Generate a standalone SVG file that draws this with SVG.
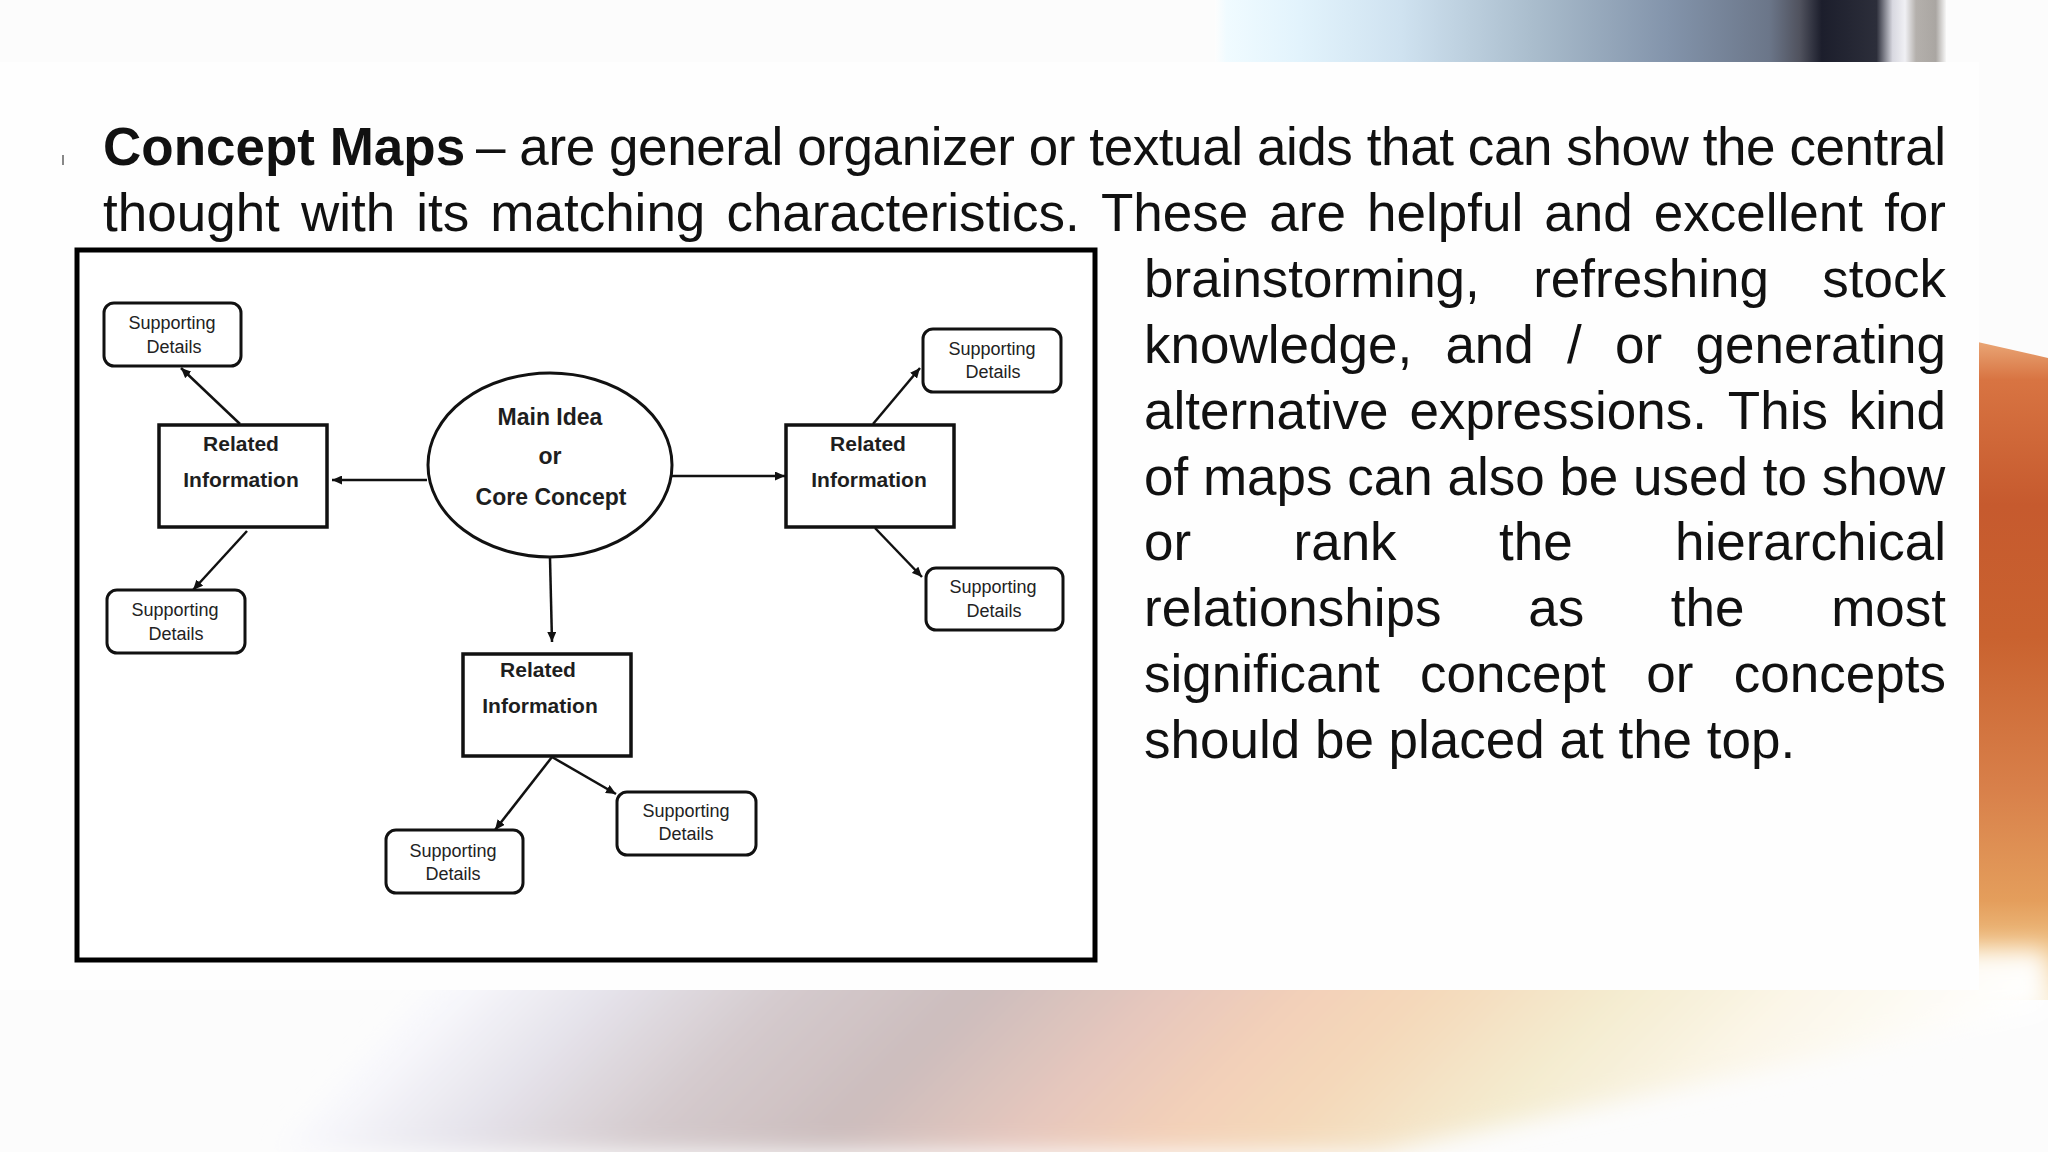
<svg xmlns="http://www.w3.org/2000/svg" width="2048" height="1152" viewBox="0 0 2048 1152">
<defs>
<style>
.body{font-family:"Liberation Sans",Arial,sans-serif;font-size:53px;fill:#111}
.ri{font-family:"Liberation Sans",Arial,sans-serif;font-size:21px;font-weight:bold;fill:#1e1e1e;text-anchor:middle}
.mi{font-family:"Liberation Sans",Arial,sans-serif;font-size:23px;font-weight:bold;fill:#1e1e1e;text-anchor:middle}
.sd{font-family:"Liberation Sans",Arial,sans-serif;font-size:18px;fill:#222;text-anchor:middle}
.sdbox{fill:#fff;stroke:#111;stroke-width:3}
.ribox{fill:#fff;stroke:#111;stroke-width:3.5}
.conn{fill:none;stroke:#111;stroke-width:2.5;marker-end:url(#arr)}
.end{text-anchor:end}
</style>
<marker id="arr" markerUnits="userSpaceOnUse" markerWidth="11" markerHeight="9" refX="10" refY="4.5" orient="auto">
<path d="M0,0 L10,4.5 L0,9 z" fill="#111"/>
</marker>
<linearGradient id="topband" gradientUnits="userSpaceOnUse" x1="1215" y1="0" x2="1946" y2="0">
<stop offset="0" stop-color="#fdfdfd"/>
<stop offset="0.016" stop-color="#f0fbff"/>
<stop offset="0.116" stop-color="#e2f3fc"/>
<stop offset="0.254" stop-color="#cfe2f0"/>
<stop offset="0.438" stop-color="#a9bccc"/>
<stop offset="0.62" stop-color="#8394ab"/>
<stop offset="0.758" stop-color="#6b7689"/>
<stop offset="0.8" stop-color="#50525e"/>
<stop offset="0.83" stop-color="#1c1e2c"/>
<stop offset="0.905" stop-color="#2c2e3a"/>
<stop offset="0.927" stop-color="#d8d8e0"/>
<stop offset="0.944" stop-color="#f0f0f4"/>
<stop offset="0.959" stop-color="#b4b0ac"/>
<stop offset="0.986" stop-color="#aaa6a2"/>
<stop offset="1" stop-color="#f6f6f6"/>
</linearGradient>
<linearGradient id="orange" gradientUnits="userSpaceOnUse" x1="0" y1="340" x2="0" y2="1000">
<stop offset="0" stop-color="#eaa878"/>
<stop offset="0.06" stop-color="#d87442"/>
<stop offset="0.25" stop-color="#c65a2e"/>
<stop offset="0.45" stop-color="#c9622f"/>
<stop offset="0.68" stop-color="#d8804a"/>
<stop offset="0.85" stop-color="#e49e5c"/>
<stop offset="0.93" stop-color="#f0c488"/>
<stop offset="1" stop-color="#f8e8c8"/>
</linearGradient>
<linearGradient id="bottom" gradientUnits="userSpaceOnUse" x1="457" y1="990" x2="1247" y2="1780">
<stop offset="0" stop-color="#f8f8fc"/>
<stop offset="0.09" stop-color="#e6e4ec"/>
<stop offset="0.21" stop-color="#d4cacd"/>
<stop offset="0.33" stop-color="#ccbdbd"/>
<stop offset="0.45" stop-color="#e6c7bd"/>
<stop offset="0.54" stop-color="#f3d0b8"/>
<stop offset="0.62" stop-color="#f4d9ba"/>
<stop offset="0.74" stop-color="#f4ecd0"/>
<stop offset="0.85" stop-color="#fbf6e8"/>
<stop offset="1" stop-color="#ffffff"/>
</linearGradient>
<filter id="soft" x="-0.1" y="-0.5" width="1.2" height="2">
<feGaussianBlur stdDeviation="12"/>
</filter>
</defs>

<g id="background">
<rect x="0" y="0" width="2048" height="1152" fill="#fcfcfc"/>
<rect x="1215" y="0" width="731" height="62" fill="url(#topband)"/>
<polygon points="1960,338 2048,358 2048,1000 1960,1000" fill="url(#orange)"/>
<polygon points="470,950 2048,950 2048,1010 1380,1152 280,1152" fill="url(#bottom)" filter="url(#soft)"/>
<rect x="0" y="62" width="1979" height="928" fill="#fefefe"/>
<rect x="62" y="155" width="2" height="10" fill="#888"/>
</g>

<g id="paragraph" class="body">
<text x="103" y="165" font-weight="bold">Concept Maps</text>
<text x="476" y="165" textLength="1470" lengthAdjust="spacing">– are general organizer or textual aids that can show the central</text>
<text y="231"><tspan x="103">thought</tspan><tspan x="300.9">with</tspan><tspan x="416.2">its</tspan><tspan x="490.3">matching</tspan><tspan x="726.4">characteristics.</tspan><tspan x="1100.9">These</tspan><tspan x="1269.3">are</tspan><tspan x="1367">helpful</tspan><tspan x="1544.2">and</tspan><tspan x="1653.7">excellent</tspan></text>
<text x="1946" y="231" class="end">for</text>
<text y="297"><tspan x="1144">brainstorming,</tspan><tspan x="1533.2">refreshing</tspan></text>
<text x="1946" y="297" class="end">stock</text>
<text y="363"><tspan x="1144">knowledge,</tspan><tspan x="1445.4">and</tspan><tspan x="1567.1">/</tspan><tspan x="1615.1">or</tspan></text>
<text x="1946" y="363" class="end">generating</text>
<text y="429"><tspan x="1144">alternative</tspan><tspan x="1409.4">expressions.</tspan><tspan x="1727.8">This</tspan></text>
<text x="1946" y="429" class="end">kind</text>
<text x="1144" y="495">of maps can also be used to show</text>
<text y="560"><tspan x="1144">or</tspan><tspan x="1293.5">rank</tspan><tspan x="1499">the</tspan></text>
<text x="1946" y="560" class="end">hierarchical</text>
<text y="626"><tspan x="1144">relationships</tspan><tspan x="1528.2">as</tspan><tspan x="1670.8">the</tspan></text>
<text x="1946" y="626" class="end">most</text>
<text y="692"><tspan x="1144">significant</tspan><tspan x="1420.1">concept</tspan><tspan x="1646.2">or</tspan></text>
<text x="1946" y="692" class="end">concepts</text>
<text x="1144" y="758">should be placed at the top.</text>
</g>

<g id="frame">
<rect x="77" y="250" width="1018" height="710" fill="#fff" stroke="#000" stroke-width="5"/>
</g>

<g id="connectors">
<path class="conn" d="M427,480 L332,480"/>
<path class="conn" d="M240,424 L181,368"/>
<path class="conn" d="M247,531 L193,590"/>
<path class="conn" d="M672,476 L785,476"/>
<path class="conn" d="M873,424 L920,368"/>
<path class="conn" d="M875,528 L922,577"/>
<path class="conn" d="M550,558 L552,642"/>
<path class="conn" d="M552,757 L495,830"/>
<path class="conn" d="M552,757 L616,794"/>
</g>

<g id="main-idea">
<ellipse cx="550" cy="465" rx="122" ry="92" fill="#fff" stroke="#111" stroke-width="3"/>
<text class="mi" x="550" y="425">Main Idea</text>
<text class="mi" x="550" y="464">or</text>
<text class="mi" x="551" y="505">Core Concept</text>
</g>

<g id="related-left">
<rect class="ribox" x="159" y="425" width="168" height="102"/>
<text class="ri" x="241" y="451">Related</text>
<text class="ri" x="241" y="487">Information</text>
</g>

<g id="related-right">
<rect class="ribox" x="786" y="425" width="168" height="102"/>
<text class="ri" x="868" y="451">Related</text>
<text class="ri" x="869" y="487">Information</text>
</g>

<g id="related-bottom">
<rect class="ribox" x="463" y="654" width="168" height="102"/>
<text class="ri" x="538" y="677">Related</text>
<text class="ri" x="540" y="713">Information</text>
</g>

<g id="support-tl">
<rect class="sdbox" x="104" y="303" width="137" height="63" rx="10"/>
<text class="sd" x="172" y="329">Supporting</text>
<text class="sd" x="174" y="353">Details</text>
</g>

<g id="support-bl">
<rect class="sdbox" x="107" y="590" width="138" height="63" rx="10"/>
<text class="sd" x="175" y="616">Supporting</text>
<text class="sd" x="176" y="640">Details</text>
</g>

<g id="support-tr">
<rect class="sdbox" x="923" y="329" width="138" height="63" rx="10"/>
<text class="sd" x="992" y="355">Supporting</text>
<text class="sd" x="993" y="378">Details</text>
</g>

<g id="support-br">
<rect class="sdbox" x="926" y="568" width="137" height="62" rx="10"/>
<text class="sd" x="993" y="593">Supporting</text>
<text class="sd" x="994" y="617">Details</text>
</g>

<g id="support-bbl">
<rect class="sdbox" x="386" y="830" width="137" height="63" rx="10"/>
<text class="sd" x="453" y="857">Supporting</text>
<text class="sd" x="453" y="880">Details</text>
</g>

<g id="support-bbr">
<rect class="sdbox" x="617" y="792" width="139" height="63" rx="10"/>
<text class="sd" x="686" y="817">Supporting</text>
<text class="sd" x="686" y="840">Details</text>
</g>
</svg>
